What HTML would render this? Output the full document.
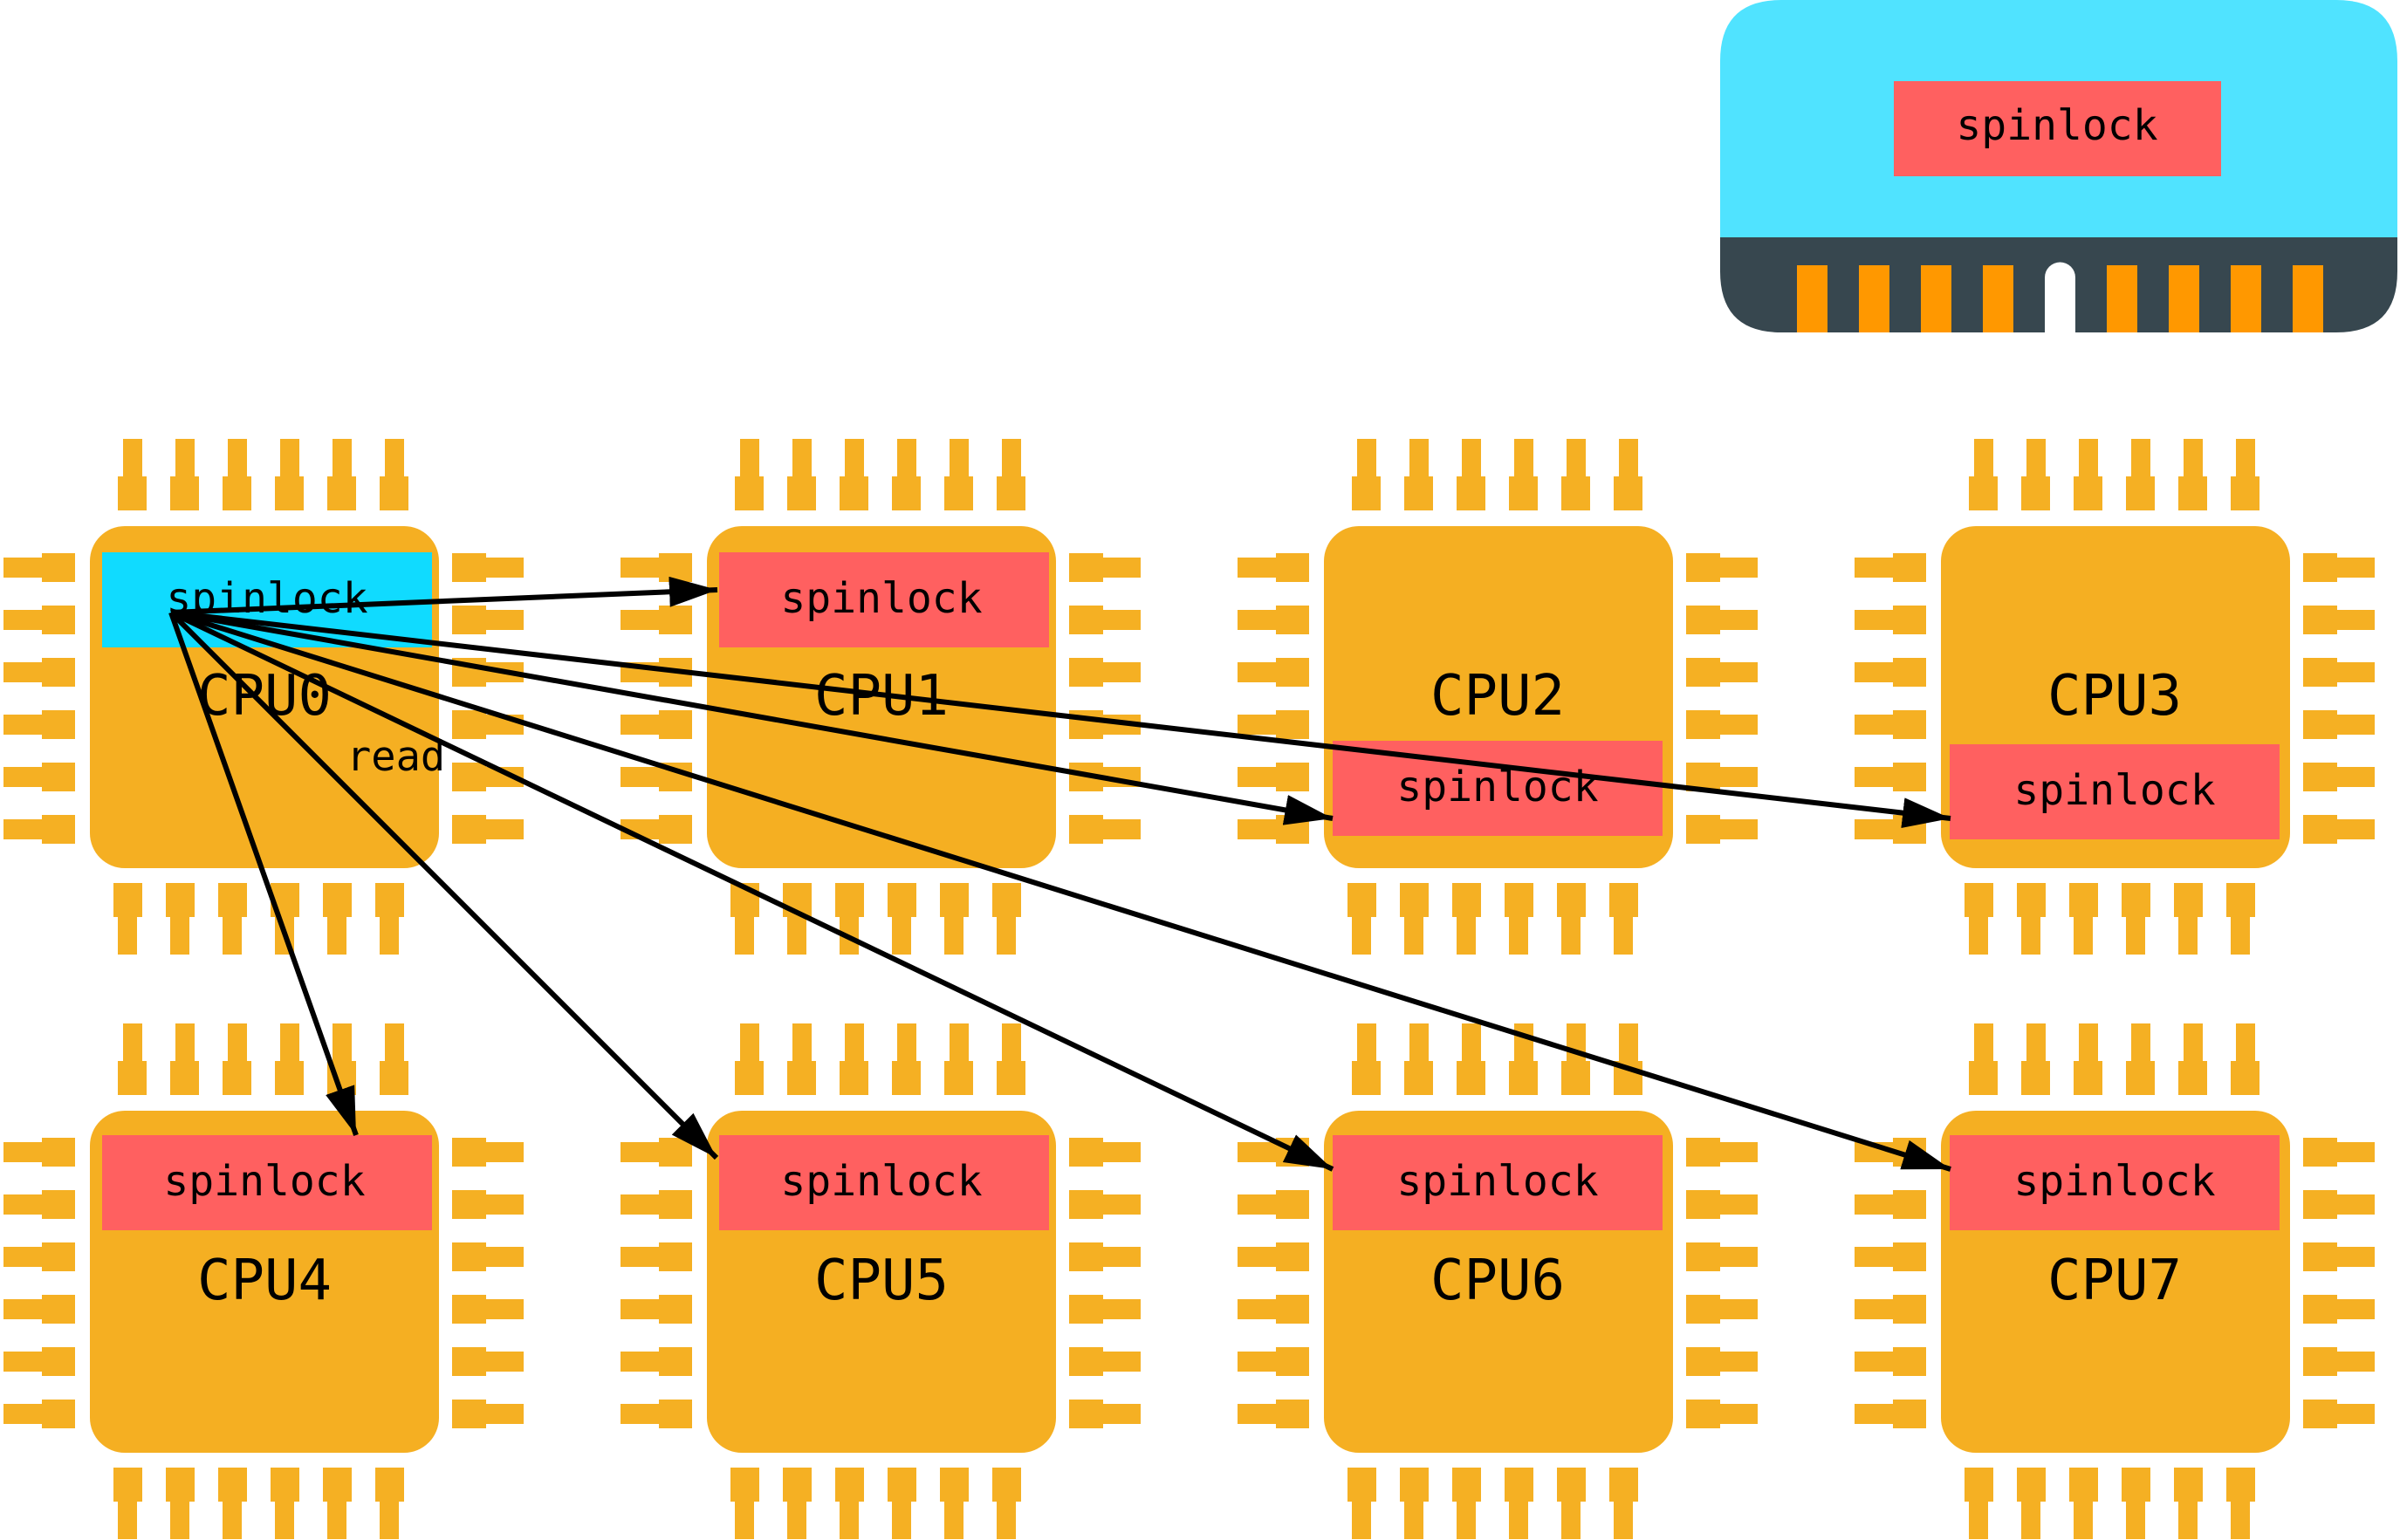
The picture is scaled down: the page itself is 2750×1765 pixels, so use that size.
<!DOCTYPE html>
<html><head><meta charset="utf-8"><style>
html,body{margin:0;padding:0;background:#fff;}
svg{display:block;}
text{font-family:"DejaVu Sans Mono","Liberation Mono",monospace;fill:#000;}
</style></head><body>
<svg width="2750" height="1765" viewBox="0 0 2750 1765" xmlns="http://www.w3.org/2000/svg">
<defs>
<g id="chip">
  <rect x="0" y="0" width="400" height="392" rx="40" fill="#F5AF22"/>
  <g fill="#F5B023">
    <g id="tp"><rect x="38" y="-100" width="22" height="45"/><rect x="32" y="-57" width="33" height="39"/></g>
    <use href="#tp" x="60"/><use href="#tp" x="120"/><use href="#tp" x="180"/><use href="#tp" x="240"/><use href="#tp" x="300"/>
    <g id="bp"><rect x="27" y="409" width="33" height="39"/><rect x="32" y="446" width="22" height="45"/></g>
    <use href="#bp" x="60"/><use href="#bp" x="120"/><use href="#bp" x="180"/><use href="#bp" x="240"/><use href="#bp" x="300"/>
    <g id="lp"><rect x="-55" y="31" width="38" height="33"/><rect x="-99" y="36" width="46" height="23"/></g>
    <use href="#lp" y="60"/><use href="#lp" y="120"/><use href="#lp" y="180"/><use href="#lp" y="240"/><use href="#lp" y="300"/>
    <g id="rp"><rect x="415" y="31" width="39" height="33"/><rect x="452" y="36" width="45" height="23"/></g>
    <use href="#rp" y="60"/><use href="#rp" y="120"/><use href="#rp" y="180"/><use href="#rp" y="240"/><use href="#rp" y="300"/>
  </g>
</g>
<marker id="ah" markerUnits="userSpaceOnUse" markerWidth="60" markerHeight="40" refX="55" refY="17.5" orient="auto">
  <path d="M0,0 L55,17.5 L0,35 z" fill="#000"/>
</marker>
</defs>

<path d="M1971,272 L1971,70 Q1971,0 2041,0 L2677,0 Q2747,0 2747,70 L2747,272 z" fill="#50E3FF"/>
<path d="M1971,272 L2747,272 L2747,311 Q2747,381 2677,381 L2041,381 Q1971,381 1971,311 z" fill="#37474F"/>
<g fill="#FF9800">
<rect x="2059" y="304" width="35" height="77"/><rect x="2130" y="304" width="35" height="77"/>
<rect x="2201" y="304" width="35" height="77"/><rect x="2272" y="304" width="35" height="77"/>
<rect x="2414" y="304" width="35" height="77"/><rect x="2485" y="304" width="35" height="77"/>
<rect x="2556" y="304" width="35" height="77"/><rect x="2627" y="304" width="35" height="77"/>
</g>
<path d="M2343,381 L2343,318 A17.5,17.5 0 0 1 2378,318 L2378,381 z" fill="#fff"/>
<rect x="2170" y="93" width="375" height="109" fill="#FF6060"/>
<text x="2357" y="160" font-size="48" text-anchor="middle">spinlock</text>

<use href="#chip" x="103" y="603"/>
<use href="#chip" x="810" y="603"/>
<use href="#chip" x="1517" y="603"/>
<use href="#chip" x="2224" y="603"/>
<use href="#chip" x="103" y="1273"/>
<use href="#chip" x="810" y="1273"/>
<use href="#chip" x="1517" y="1273"/>
<use href="#chip" x="2224" y="1273"/>

<rect x="117" y="633" width="378" height="109" fill="#10DBFF"/>
<rect x="824" y="633" width="378" height="109" fill="#FF6060"/>
<rect x="1527" y="849" width="378" height="109" fill="#FF6060"/>
<rect x="2234" y="853" width="378" height="109" fill="#FF6060"/>
<rect x="117" y="1301" width="378" height="109" fill="#FF6060"/>
<rect x="824" y="1301" width="378" height="109" fill="#FF6060"/>
<rect x="1527" y="1301" width="378" height="109" fill="#FF6060"/>
<rect x="2234" y="1301" width="378" height="109" fill="#FF6060"/>

<g font-size="48" text-anchor="middle">
<text x="306" y="702">spinlock</text>
<text x="1010" y="702">spinlock</text>
<text x="1716" y="918">spinlock</text>
<text x="2423" y="922">spinlock</text>
<text x="303" y="1370">spinlock</text>
<text x="1010" y="1370">spinlock</text>
<text x="1716" y="1370">spinlock</text>
<text x="2423" y="1370">spinlock</text>
</g>
<g font-size="64" text-anchor="middle">
<text x="303" y="819">CPU0</text>
<text x="1010" y="819">CPU1</text>
<text x="1716" y="819">CPU2</text>
<text x="2423" y="819">CPU3</text>
<text x="303" y="1489">CPU4</text>
<text x="1010" y="1489">CPU5</text>
<text x="1716" y="1489">CPU6</text>
<text x="2423" y="1489">CPU7</text>
</g>
<text x="397" y="883" font-size="47">read</text>

<g stroke="#000" stroke-width="6" fill="none" marker-end="url(#ah)">
<line x1="196" y1="702" x2="822" y2="676"/>
<line x1="196" y1="702" x2="1527" y2="938"/>
<line x1="196" y1="702" x2="2235" y2="938"/>
<line x1="196" y1="702" x2="408" y2="1301"/>
<line x1="196" y1="702" x2="821" y2="1327"/>
<line x1="196" y1="702" x2="1527" y2="1340"/>
<line x1="196" y1="702" x2="2235" y2="1340"/>
</g>
</svg>
</body></html>
